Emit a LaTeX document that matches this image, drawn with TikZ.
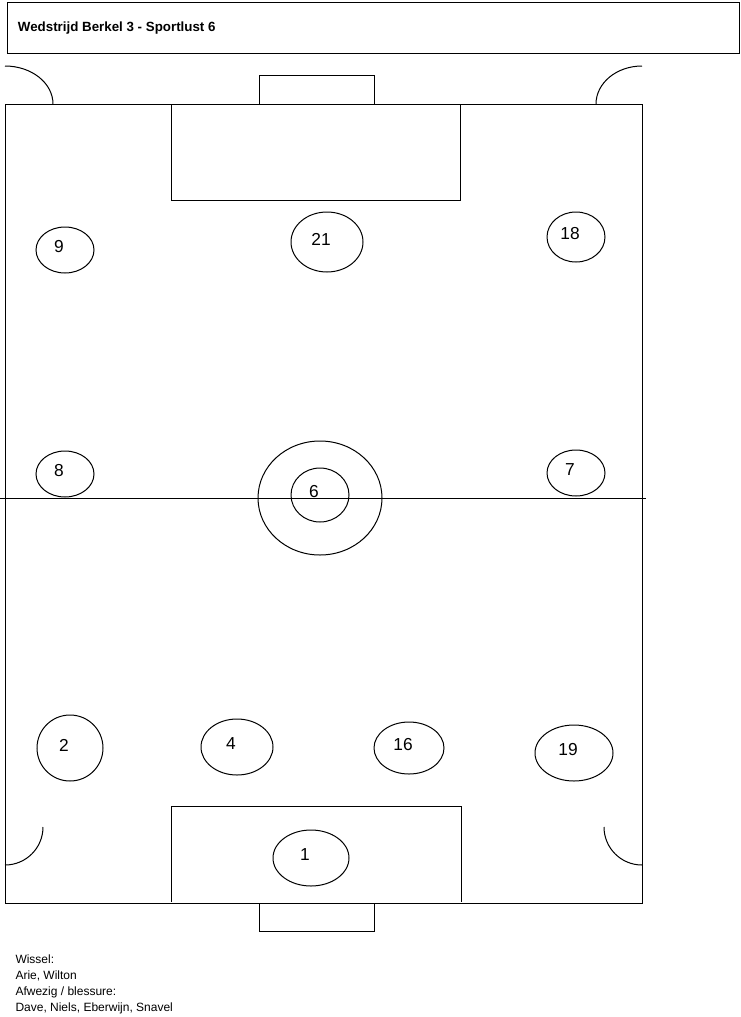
\documentclass[tikz,border=0pt]{standalone}
\usepackage{fontspec}
\setmainfont{Liberation Sans}
\begin{document}
\begin{tikzpicture}[x=0.75pt,y=-0.75pt,line width=0.75pt,
  pl/.style={draw,ellipse,inner sep=0pt},
  num/.style={font=\fontsize{13}{13}\selectfont}]
\useasboundingbox (0,0) rectangle (741,1017);
\node[draw,minimum width=732*0.75pt,minimum height=51*0.75pt,anchor=north west,inner sep=0pt] (title) at (7,2) {};
\node[anchor=west,font=\bfseries\fontsize{10}{10}\selectfont] (tt) at (13,28) {Wedstrijd Berkel 3 - Sportlust 6};
\draw (5,104) rectangle (642,903);
\draw (259,104) -- (259,75) -- (374,75) -- (374,104);
\draw (171,104) -- (171,200) -- (460,200) -- (460,104);
\draw (171,902) -- (171,806) -- (461,806) -- (461,902);
\draw (259,903) -- (259,931) -- (374,931) -- (374,903);
\draw (0,498) -- (646,498);
\draw (320,498) ellipse [x radius=62, y radius=57];
\draw (53,104) arc[start angle=0,end angle=-90,x radius=48,y radius=38];
\draw (596,104) arc[start angle=180,end angle=270,x radius=46,y radius=38];
\draw (5,865) arc[start angle=90,end angle=0,x radius=38,y radius=38];
\draw (642,865) arc[start angle=90,end angle=180,x radius=38,y radius=38];
\foreach \n/\x/\y/\rx/\ry in {9/65/250/29/23, 21/327/242/36/30, 18/576/237/29/25, 8/65/474/29/23, 7/576/473/29/23, 6/320/495/29/27, 2/70/748/33/33, 4/237/747/36/28, 16/409/748/35/26, 19/574/753/39/28, 1/311/858/38/28}{
  \draw (\x,\y) ellipse [x radius=\rx, y radius=\ry];
  \node[num] (p\n) at (\x-6+\rx*0,\y-3) {\n};
}
\node[anchor=north west,align=left,font=\fontsize{9}{12}\selectfont,inner sep=0pt] (notes) at (15,954) {Wissel:\\Arie, Wilton\\Afwezig / blessure:\\Dave, Niels, Eberwijn, Snavel};
\end{tikzpicture}
\end{document}
